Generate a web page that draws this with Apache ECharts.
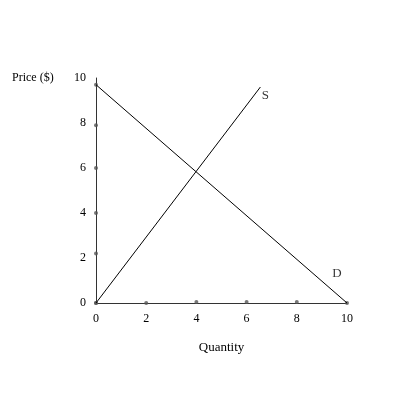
<!DOCTYPE html>
<html><head><meta charset="utf-8">
<script src="https://cdn.jsdelivr.net/npm/echarts@6/dist/echarts.min.js"></script>
<style>html,body{margin:0;padding:0;background:#fff}#c{width:400px;height:400px}</style>
</head><body><div id="c"></div>
<script>
var demand = [[0, 9.7], [10, 0]];
var supply = [[0, 0], [6.55, 9.6]];
var yDots = [[0, 0], [0, 2.2], [0, 4], [0, 6], [0, 7.9], [0, 9.7]];
var xDots = [[0, 0], [2, 0], [4, 0.05], [6, 0.05], [8, 0.05], [10, 0]];
var labelS = [[6.75, 9.2, 'S']];
var labelD = [[9.6, 1.3, 'D']];
var F = 'Liberation Serif';
var chart = echarts.init(document.getElementById('c'));
chart.setOption({
  animation: false,
  grid: {left: 96, right: 53, top: 78, bottom: 97},
  xAxis: {type: 'value', min: 0, max: 10, interval: 2, name: 'Quantity', nameLocation: 'middle', nameGap: 38,
    nameTextStyle: {fontFamily: F, fontSize: 13, color: '#000'},
    axisLine: {lineStyle: {color: '#333'}}, axisTick: {show: false}, splitLine: {show: false},
    axisLabel: {fontFamily: F, fontSize: 12, color: '#000', margin: 10}},
  yAxis: {type: 'value', min: 0, max: 10, interval: 2,
    axisLine: {show: true, lineStyle: {color: '#333'}}, axisTick: {show: false}, splitLine: {show: false},
    axisLabel: {fontFamily: F, fontSize: 12, color: '#000', margin: 10}},
  graphic: [{type: 'text', left: 12, top: 72, style: {text: 'Price ($)', font: '12px ' + F, fill: '#000'}}],
  series: [
    {type: 'line', data: demand, symbol: 'none', lineStyle: {color: '#000', width: 1}},
    {type: 'line', data: supply, symbol: 'none', lineStyle: {color: '#000', width: 1}},
    {type: 'scatter', data: yDots.concat(xDots), symbolSize: 4, itemStyle: {color: '#555'}},
    {type: 'scatter', data: labelS.concat(labelD), symbolSize: 0,
      label: {show: true, formatter: function(p){return p.data[2];}, fontFamily: F, fontSize: 13, color: '#000'}}
  ]
});
</script></body></html>
